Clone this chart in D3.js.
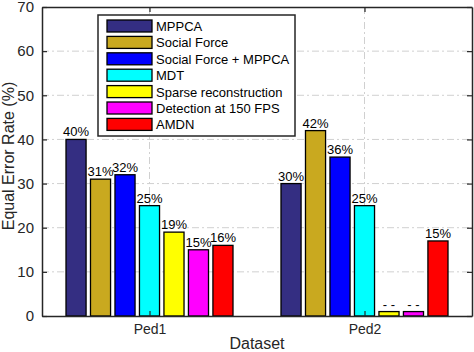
<!DOCTYPE html>
<html>
<head>
<meta charset="utf-8">
<title>Equal Error Rate</title>
<script src="https://d3js.org/d3.v7.min.js"></script>
<style>
  body { margin: 0; background: #fff; }
  text { font-family: "Liberation Sans", Arial, sans-serif; }
</style>
</head>
<body>
<div id="chart"></div>
<script>
// data
var datasets = ["Ped1", "Ped2"];
var methods = ["MPPCA", "Social Force", "Social Force + MPPCA", "MDT",
               "Sparse reconstruction", "Detection at 150 FPS", "AMDN"];
var colors = ["#342e82", "#c9a91f", "#0000ff", "#00ffff", "#ffff00", "#ff00ff", "#ff0000"];
var ped1 = [40, 31, 32, 25, 19, 15, 16];
var ped2 = [30, 42, 36, 25, 1, 1, 17];
var ped1Labels = ["40%", "31%", "32%", "25%", "19%", "15%", "16%"];
var ped2Labels = ["30%", "42%", "36%", "25%", "- -", "- -", "15%"];
var yTicks = [0, 10, 20, 30, 40, 50, 60, 70];

var width = 474, height = 352;
var margin = {top: 7, right: 2, bottom: 36, left: 42};
var axisColor = "#262626";

var svg = d3.select("#chart").append("svg")
    .attr("width", width)
    .attr("height", height);

// scales
var x = d3.scaleLinear().domain([0.5, 2.5]).range([margin.left, width - margin.right]);
var y = d3.scaleLinear().domain([0, 70]).range([height - margin.bottom, margin.top]);
var inner = d3.scaleBand().domain(methods).range([-83.5, 83.5]).paddingInner(0.18);

var x0 = x.range()[0], x1 = x.range()[1], y0 = y.range()[0], y1 = y.range()[1];

// grid, dash-dot
var grid = svg.append("g")
    .attr("stroke", "#d0d0d0")
    .attr("stroke-width", 1)
    .attr("stroke-dasharray", "7,3,2,3");
grid.selectAll(".hg").data(yTicks.slice(1, -1)).enter().append("line")
    .attr("x1", x0).attr("x2", x1)
    .attr("y1", function(d) { return y(d); })
    .attr("y2", function(d) { return y(d); });
grid.selectAll(".vg").data([1, 2]).enter().append("line")
    .attr("x1", function(d) { return x(d); })
    .attr("x2", function(d) { return x(d); })
    .attr("y1", y1).attr("y2", y0);

// bars
var rows = [];
datasets.forEach(function(ds, i) {
    var vals = i === 0 ? ped1 : ped2;
    var labs = i === 0 ? ped1Labels : ped2Labels;
    methods.forEach(function(m, j) {
        rows.push({ds: i + 1, method: m, color: colors[j], value: vals[j], label: labs[j]});
    });
});

svg.append("g").selectAll("rect").data(rows).enter().append("rect")
    .attr("x", function(d) { return x(d.ds) + inner(d.method); })
    .attr("y", function(d) { return y(d.value); })
    .attr("width", inner.bandwidth())
    .attr("height", function(d) { return y(0) - y(d.value); })
    .attr("fill", function(d) { return d.color; })
    .attr("stroke", "#000")
    .attr("stroke-width", 1.3);

svg.append("g").selectAll("text").data(rows).enter().append("text")
    .attr("x", function(d) { return x(d.ds) + inner(d.method) + inner.bandwidth() / 2; })
    .attr("y", function(d) { return y(d.value) - 3; })
    .attr("text-anchor", "middle")
    .attr("font-size", 13)
    .attr("fill", "#000")
    .text(function(d) { return d.label; });

// axes (box with inward ticks)
var yAxisL = d3.axisLeft(y).tickValues(yTicks).tickSizeInner(-5).tickSizeOuter(0).tickPadding(8);
var yAxisR = d3.axisRight(y).tickValues(yTicks).tickSizeInner(-5).tickSizeOuter(0).tickFormat("");
var xAxisB = d3.axisBottom(x).tickValues([1, 2]).tickSizeInner(-5).tickSizeOuter(0).tickPadding(8)
    .tickFormat(function(d) { return datasets[d - 1]; });
var xAxisT = d3.axisTop(x).tickValues([1, 2]).tickSizeInner(-5).tickSizeOuter(0).tickFormat("");

function style(g, fs) {
    g.selectAll("path").attr("stroke", axisColor).attr("stroke-width", 1.5);
    g.selectAll("line").attr("stroke", axisColor).attr("stroke-width", 1.2);
    g.selectAll("text").attr("fill", axisColor).attr("font-size", fs)
        .attr("font-family", "Liberation Sans, Arial, sans-serif");
}
svg.append("g").attr("transform", "translate(" + x0 + ",0)").call(yAxisL).call(style, 15);
svg.append("g").attr("transform", "translate(" + x1 + ",0)").call(yAxisR).call(style, 15);
svg.append("g").attr("transform", "translate(0," + y0 + ")").call(xAxisB).call(style, 14);
svg.append("g").attr("transform", "translate(0," + y1 + ")").call(xAxisT).call(style, 14);

// axis titles
svg.append("text")
    .attr("transform", "translate(14,156) rotate(-90)")
    .attr("text-anchor", "middle")
    .attr("font-size", 16)
    .attr("fill", axisColor)
    .text("Equal Error Rate (%)");
svg.append("text")
    .attr("x", (x0 + x1) / 2)
    .attr("y", 349)
    .attr("text-anchor", "middle")
    .attr("font-size", 16)
    .attr("fill", axisColor)
    .text("Dataset");

// legend
var legend = svg.append("g").attr("transform", "translate(98,15)");
legend.append("rect")
    .attr("width", 197).attr("height", 121)
    .attr("fill", "#fff")
    .attr("stroke", axisColor)
    .attr("stroke-width", 1.5);
var item = legend.selectAll(".item").data(methods).enter().append("g")
    .attr("transform", function(d, i) { return "translate(0," + (11 + i * 16.4) + ")"; });
item.append("rect")
    .attr("x", 9).attr("y", -6)
    .attr("width", 45).attr("height", 12)
    .attr("fill", function(d, i) { return colors[i]; })
    .attr("stroke", "#000")
    .attr("stroke-width", 1.3);
item.append("text")
    .attr("x", 58).attr("y", 5)
    .attr("font-size", 13)
    .attr("fill", "#000")
    .text(function(d) { return d; });
</script>
</body>
</html>
